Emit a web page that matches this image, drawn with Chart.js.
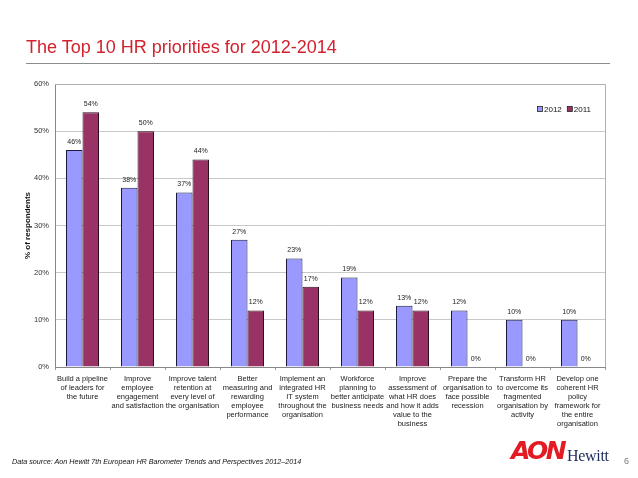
<!DOCTYPE html>
<html><head><meta charset="utf-8">
<script src="https://cdn.jsdelivr.net/npm/chart.js@4/dist/chart.umd.min.js"></script>
<style>
html,body{margin:0;padding:0;background:#fff;}
#wrap{position:relative;width:638px;height:478px;overflow:hidden;font-family:"Liberation Sans",Arial,sans-serif;}
canvas{position:absolute;left:0;top:0;}
#title{position:absolute;left:26px;top:37px;font-size:18px;color:#d3212d;white-space:nowrap;}
#rule{position:absolute;left:26px;top:63px;width:584px;height:1px;background:#8c8c8c;}
#src{position:absolute;left:12px;top:457px;font-size:7.2px;font-style:italic;color:#111;white-space:nowrap;}
#aon{position:absolute;left:511px;top:436px;font-family:"DejaVu Sans",sans-serif;font-weight:900;font-style:italic;font-size:25px;color:#e31b23;letter-spacing:-2.5px;white-space:nowrap;}
#hew{position:absolute;left:567px;top:447px;font-family:"Liberation Serif",serif;font-size:16px;color:#1f2a5c;letter-spacing:-0.3px;white-space:nowrap;}
#pg{position:absolute;left:624px;top:456px;font-size:9px;color:#777;}
</style></head>
<body><div id="wrap">
<canvas id="c" width="638" height="478"></canvas>
<div id="title">The Top 10 HR priorities for 2012-2014</div>
<div id="rule"></div>
<div id="src">Data source: Aon Hewitt 7th European HR Barometer Trends and Perspectives 2012–2014</div>
<div id="aon">AON</div><div id="hew">Hewitt</div>
<div id="pg">6</div>
</div>
<script>
const categories = [
  ["Build a pipeline","of leaders for","the future"],
  ["Improve","employee","engagement","and satisfaction"],
  ["Improve talent","retention at","every level of","the organisation"],
  ["Better","measuring and","rewarding","employee","performance"],
  ["Implement an","integrated HR","IT system","throughout the","organisation"],
  ["Workforce","planning to","better anticipate","business needs"],
  ["Improve","assessment of","what HR does","and how it adds","value to the","business"],
  ["Prepare the","organisation to","face possible","recession"],
  ["Transform HR","to overcome its","fragmented","organisation by","activity"],
  ["Develop one","coherent HR","policy","framework for","the entire","organisation"]
];
const seriesNames = ["2012","2011"];
const values2012 = [46,38,37,27,23,19,13,12,10,10];
const values2011 = [54,50,44,12,17,12,12,0,0,0];
const yTicks = [0,10,20,30,40,50,60];

const FONT = '"Liberation Sans", Arial, sans-serif';

const framePlugin = {
  id:'frame',
  afterDraw(chart){
    const {ctx, chartArea:a} = chart;
    ctx.save();
    ctx.strokeStyle='#b0b0b0'; ctx.lineWidth=1;
    ctx.beginPath();
    ctx.moveTo(a.left, a.top+0.5); ctx.lineTo(a.right+0.5, a.top+0.5); ctx.lineTo(a.right+0.5, a.bottom);
    ctx.stroke();
    ctx.restore();
  }
};
const labelPlugin = {
  id:'vlabels',
  afterDatasetsDraw(chart){
    const ctx = chart.ctx;
    ctx.save();
    ctx.font = '7px '+FONT; ctx.fillStyle='#222'; ctx.textAlign='center'; ctx.textBaseline='middle';
    chart.data.datasets.forEach((ds,i)=>{
      chart.getDatasetMeta(i).data.forEach((bar,j)=>{
        ctx.fillText(ds.data[j]+'%', bar.x, bar.y-8);
      });
    });
    ctx.restore();
  }
};
const legendPlugin = {
  id:'mylegend',
  afterDraw(chart){
    const ctx = chart.ctx;
    ctx.save();
    ctx.font = '8px '+FONT; ctx.textBaseline='middle'; ctx.textAlign='left';
    let x = 537, y = 110;
    chart.data.datasets.forEach(ds=>{
      ctx.fillStyle = ds.backgroundColor; ctx.fillRect(x+0.5, y-3.5, 5, 5);
      ctx.strokeStyle = '#222'; ctx.lineWidth=0.8; ctx.strokeRect(x+0.5, y-3.5, 5, 5);
      ctx.fillStyle='#111'; ctx.fillText(ds.label, x+7, y);
      x += 7 + ctx.measureText(ds.label).width + 5;
    });
    ctx.restore();
  }
};

new Chart(document.getElementById('c'), {
  type:'bar',
  data:{
    labels: categories,
    datasets:[
      {label:seriesNames[0], data:values2012, backgroundColor:'#9999ff', borderColor:'#1a1a40', borderWidth:1},
      {label:seriesNames[1], data:values2011, backgroundColor:'#993366', borderColor:'#2a0f1e', borderWidth:1}
    ]
  },
  options:{
    responsive:false, animation:false, devicePixelRatio:1,
    layout:{padding:{left:23,top:84,right:33,bottom:0}},
    plugins:{legend:{display:false}, tooltip:{enabled:false}},
    datasets:{bar:{categoryPercentage:0.6, barPercentage:1.0}},
    scales:{
      x:{
        grid:{display:true, drawOnChartArea:false, offset:true, tickLength:3, color:'#999'},
        border:{color:'#888'},
        ticks:{font:{family:FONT,size:7.5,lineHeight:1.2}, color:'#222', maxRotation:0, autoSkip:false, padding:4},
        afterFit(s){ s.height = 111; }
      },
      y:{
        min:0, max:60,
        afterBuildTicks(s){ s.ticks = yTicks.map(v=>({value:v})); },
        grid:{color:'#c8c8c8', drawTicks:false},
        border:{color:'#888'},
        ticks:{font:{family:FONT,size:7.5}, color:'#333', padding:6, callback:v=>v+'%'},
        title:{display:true, text:'% of respondents', font:{family:FONT,size:8,weight:'bold'}, color:'#111', padding:0},
        afterFit(s){ s.width = 32; }
      }
    }
  },
  plugins:[framePlugin,labelPlugin,legendPlugin]
});
</script>
</body></html>
